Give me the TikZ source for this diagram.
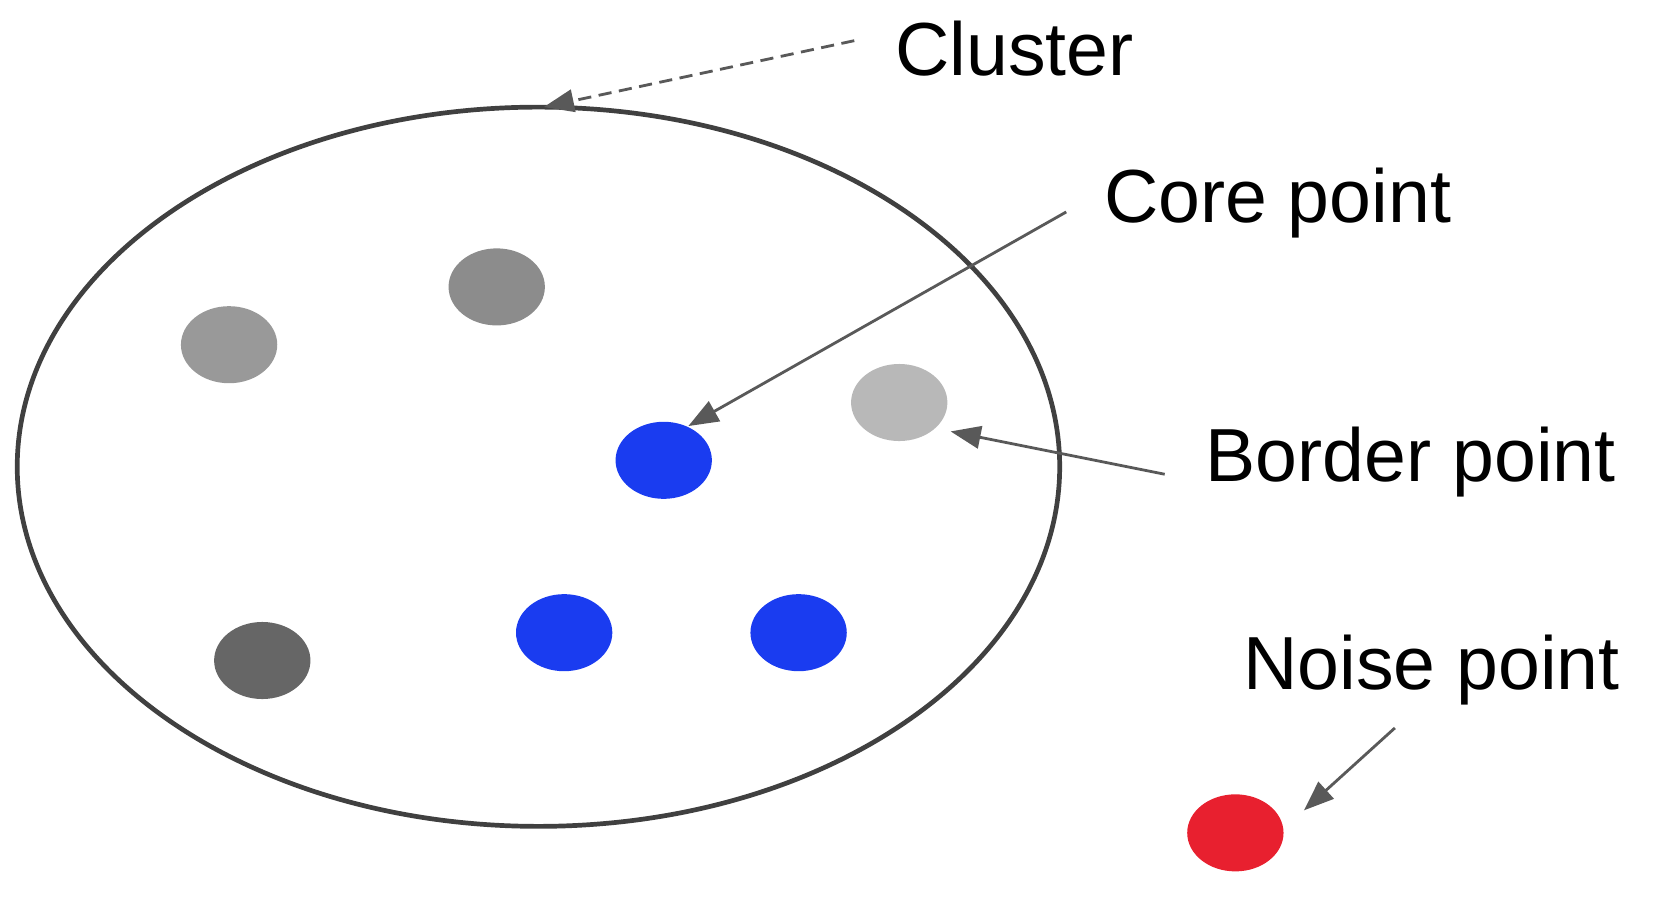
\documentclass[tikz,border=0pt]{standalone}
\usepackage{fontspec}
\setmainfont{Liberation Sans}
\usetikzlibrary{arrows.meta,shapes.geometric}
\begin{document}
\begin{tikzpicture}[x=0.02cm,y=-0.02cm,
  dot/.style={ellipse,minimum width=1.8cm,minimum height=1.44cm,inner sep=0pt},
  lab/.style={anchor=west,inner sep=0pt,font=\fontsize{40}{46}\selectfont},
  arr/.style={draw=black!65,line width=1.5pt,-{Triangle[length=16pt,width=12pt]}}]
\useasboundingbox (0,0) rectangle (1560,838);
\node[draw=black!75,line width=2.5pt,ellipse,minimum width=19.48cm,minimum height=13.44cm,inner sep=0pt] (cl) at (503,436) {};
\node[dot,fill=black!40] (g1) at (214,322) {};
\node[dot,fill=black!45] (g2) at (464,268) {};
\node[dot,fill=black!28] (bd) at (840,376) {};
\node[dot,fill=black!60] (g4) at (245,617) {};
\node[dot,fill={rgb,255:red,26;green,60;blue,240}] (c1) at (620,430) {};
\node[dot,fill={rgb,255:red,26;green,60;blue,240}] (c2) at (527,591) {};
\node[dot,fill={rgb,255:red,26;green,60;blue,240}] (c3) at (746,591) {};
\node[dot,fill={rgb,255:red,232;green,32;blue,47}] (nz) at (1154,778) {};
\node[lab] (tc) at (836,45) {Cluster};
\node[lab] (tcore) at (1031,190) {Core point};
\node[lab] (tb) at (1126,432) {Border point};
\node[lab] (tn) at (1161,626) {Noise point};
\coordinate (a1) at (798,38); \coordinate (a1e) at (508,100);
\coordinate (a2) at (996,198); \coordinate (a2e) at (643,398);
\coordinate (a3) at (1088,443); \coordinate (a3e) at (888,403);
\coordinate (a4) at (1303,680); \coordinate (a4e) at (1218,757);
\draw[arr,dash pattern=on 7pt off 4pt] (a1) -- (a1e);
\draw[arr] (a2) -- (a2e);
\draw[arr] (a3) -- (a3e);
\draw[arr] (a4) -- (a4e);
\end{tikzpicture}
\end{document}
